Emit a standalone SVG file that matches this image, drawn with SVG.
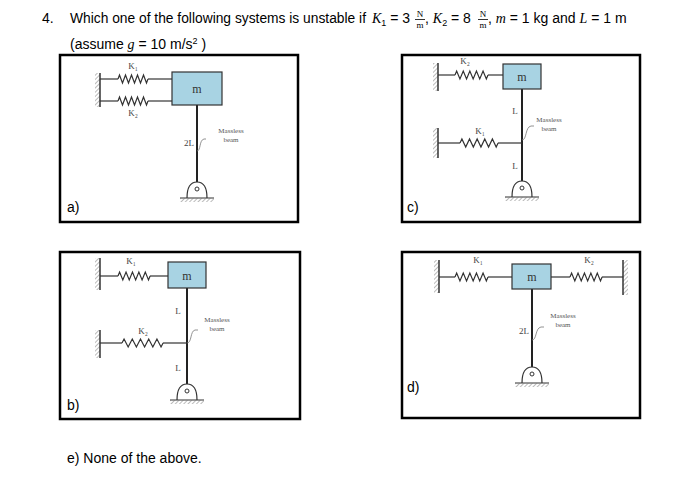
<svg xmlns="http://www.w3.org/2000/svg" xmlns:xlink="http://www.w3.org/1999/xlink" width="700" height="480" viewBox="0 0 700 480">
<style>
.frame{fill:none;stroke:#000;stroke-width:2.5}
.ln{stroke:#333;stroke-width:1.2;fill:none}
.beam{stroke:#222;stroke-width:2;fill:none}
.wall{stroke:#333;stroke-width:1.5}
.mass{fill:#a8d3e3;stroke:#333;stroke-width:1.2}
.lbl{font-family:"Liberation Serif",serif;font-size:9px;fill:#444}
.small{font-family:"Liberation Serif",serif;font-size:7px;fill:#555}
.mt{font-family:"Liberation Serif",serif;font-size:12px;fill:#333}
.t{font-family:"Liberation Sans",Arial,sans-serif;font-size:14px;fill:#000}
.mi{font-family:"Liberation Serif",serif;font-style:italic}
.fr{font-family:"Liberation Serif",serif;font-size:9px;fill:#000}
.sq{stroke:#777;stroke-width:0.8;fill:none}
</style>
<defs>
<pattern id="hatch" width="3" height="3" patternUnits="userSpaceOnUse" patternTransform="rotate(45)">
<line x1="0" y1="0" x2="0" y2="3" stroke="#777" stroke-width="1"/>
</pattern>
<path id="spring" d="M0,0 l1.5,-4 l3,8 l3,-8 l3,8 l3,-8 l3,8 l3,-8 l3,8 l3,-8 l3,8 l1.5,-4" vector-effect="non-scaling-stroke" fill="none" stroke="#333" stroke-width="1.2"/>
<g id="pivot">
<path d="M-10,0 Q-10,-16 0,-16 Q10,-16 10,0" fill="#fff" stroke="#333" stroke-width="1.2"/>
<circle cx="0" cy="-9" r="2" fill="#fff" stroke="#333" stroke-width="1"/>
<line x1="-17" y1="0" x2="17" y2="0" stroke="#333" stroke-width="1.2"/>
<rect x="-17" y="0" width="34" height="4" fill="url(#hatch)"/>
</g>
</defs>

<g id="title">
<text class="t" x="42" y="23">4.</text>
<text class="t" x="70" y="23" textLength="296" lengthAdjust="spacingAndGlyphs">Which one of the following systems is unstable if</text>
<text class="t" x="372" y="23"><tspan class="mi">K</tspan><tspan font-size="9" dy="3">1</tspan><tspan dy="-3"> = 3</tspan></text>
<text class="fr" x="420" y="17" text-anchor="middle">N</text>
<line x1="415" y1="19.5" x2="425" y2="19.5" stroke="#000" stroke-width="0.8"/>
<text class="fr" x="420" y="28" text-anchor="middle">m</text>
<text class="t" x="425" y="23">, <tspan class="mi">K</tspan><tspan font-size="9" dy="3">2</tspan><tspan dy="-3"> = 8</tspan></text>
<text class="fr" x="483" y="17" text-anchor="middle">N</text>
<line x1="478" y1="19.5" x2="488" y2="19.5" stroke="#000" stroke-width="0.8"/>
<text class="fr" x="483" y="28" text-anchor="middle">m</text>
<text class="t" x="488" y="23">, <tspan class="mi">m</tspan> = 1 kg and <tspan class="mi">L</tspan> = 1  m</text>
<text class="t" x="70" y="49">(assume <tspan class="mi">g</tspan> = 10 m/s<tspan font-size="9" dy="-5">2</tspan><tspan dy="5"> )</tspan></text>
</g>

<!-- Panel a -->
<g id="panel-a">
<rect class="frame" x="60" y="55" width="238" height="167"/>
<rect x="95" y="73" width="5" height="34" fill="url(#hatch)"/>
<line class="wall" x1="100" y1="73" x2="100" y2="107"/>
<line class="ln" x1="100" y1="79" x2="118" y2="79"/><use xlink:href="#spring" transform="translate(118,79)"/><line class="ln" x1="148" y1="79" x2="172" y2="79"/>
<line class="ln" x1="100" y1="101" x2="118" y2="101"/><use xlink:href="#spring" transform="translate(118,101)"/><line class="ln" x1="148" y1="101" x2="172" y2="101"/>
<text class="lbl" x="133" y="69" text-anchor="middle">K₁</text>
<text class="lbl" x="133" y="116" text-anchor="middle">K₂</text>
<line class="beam" x1="197" y1="105" x2="197" y2="189"/>
<rect class="mass" x="172" y="72" width="50" height="33"/>
<text class="mt" x="197" y="93" text-anchor="middle">m</text>
<text class="lbl" x="194" y="146" text-anchor="end">2L</text>
<path class="sq" d="M197,151 C201,151 199,140 204,139 L206,139"/>
<text class="small" x="231" y="133" text-anchor="middle">Massless</text>
<text class="small" x="231" y="142" text-anchor="middle">beam</text>
<use xlink:href="#pivot" transform="translate(197,198)"/>
<text class="t" x="67" y="212">a)</text>
</g>

<!-- Panel c -->
<g id="panel-c">
<rect class="frame" x="402" y="55" width="238" height="167"/>
<rect x="433" y="63" width="5" height="28" fill="url(#hatch)"/>
<line class="wall" x1="438" y1="63" x2="438" y2="91"/>
<line class="ln" x1="438" y1="75" x2="455" y2="75"/><use xlink:href="#spring" transform="translate(455,75) scale(1.1,1)"/><line class="ln" x1="488" y1="75" x2="503" y2="75"/>
<text class="lbl" x="465" y="64" text-anchor="middle">K₂</text>
<line class="beam" x1="522" y1="89" x2="522" y2="189"/>
<rect class="mass" x="503" y="64" width="38" height="25"/>
<text class="mt" x="522" y="81" text-anchor="middle">m</text>
<rect x="433" y="128" width="5" height="30" fill="url(#hatch)"/>
<line class="wall" x1="438" y1="128" x2="438" y2="158"/>
<line class="ln" x1="438" y1="143" x2="460" y2="143"/><use xlink:href="#spring" transform="translate(460,143) scale(1.27,1)"/><line class="ln" x1="498" y1="143" x2="522" y2="143"/>
<text class="lbl" x="480" y="134" text-anchor="middle">K₁</text>
<text class="lbl" x="515" y="114" text-anchor="middle">L</text>
<text class="lbl" x="515" y="169" text-anchor="middle">L</text>
<path class="sq" d="M522,140 C527,140 525,127 531,126 L534,126"/>
<text class="small" x="549" y="122" text-anchor="middle">Massless</text>
<text class="small" x="549" y="131" text-anchor="middle">beam</text>
<use xlink:href="#pivot" transform="translate(522,197)"/>
<text class="t" x="407" y="212">c)</text>
</g>

<!-- Panel b -->
<g id="panel-b">
<rect class="frame" x="60" y="252" width="240" height="167"/>
<rect x="95" y="258" width="5" height="32" fill="url(#hatch)"/>
<line class="wall" x1="100" y1="258" x2="100" y2="290"/>
<line class="ln" x1="100" y1="276" x2="118" y2="276"/><use xlink:href="#spring" transform="translate(118,276) scale(1.07,1)"/><line class="ln" x1="150" y1="276" x2="168" y2="276"/>
<text class="lbl" x="131" y="264" text-anchor="middle">K₁</text>
<line class="beam" x1="187" y1="288" x2="187" y2="390"/>
<rect class="mass" x="168" y="262" width="38" height="26"/>
<text class="mt" x="187" y="280" text-anchor="middle">m</text>
<rect x="95" y="330" width="5" height="28" fill="url(#hatch)"/>
<line class="wall" x1="100" y1="330" x2="100" y2="358"/>
<line class="ln" x1="100" y1="343" x2="122" y2="343"/><use xlink:href="#spring" transform="translate(122,343) scale(1.37,1)"/><line class="ln" x1="163" y1="343" x2="187" y2="343"/>
<text class="lbl" x="143" y="334" text-anchor="middle">K₂</text>
<text class="lbl" x="178" y="314" text-anchor="middle">L</text>
<text class="lbl" x="178" y="371" text-anchor="middle">L</text>
<path class="sq" d="M187,343 C192,343 190,331 195,330 L198,330"/>
<text class="small" x="217" y="322" text-anchor="middle">Massless</text>
<text class="small" x="217" y="331" text-anchor="middle">beam</text>
<use xlink:href="#pivot" transform="translate(187,400)"/>
<text class="t" x="67" y="410">b)</text>
</g>

<!-- Panel d -->
<g id="panel-d">
<rect class="frame" x="402" y="252" width="238" height="166"/>
<rect x="434" y="260" width="5" height="33" fill="url(#hatch)"/>
<line class="wall" x1="439" y1="260" x2="439" y2="293"/>
<line class="ln" x1="439" y1="277" x2="455" y2="277"/><use xlink:href="#spring" transform="translate(455,277) scale(1.1,1)"/><line class="ln" x1="488" y1="277" x2="512" y2="277"/>
<text class="lbl" x="478" y="263" text-anchor="middle">K₁</text>
<line class="ln" x1="551" y1="277" x2="570" y2="277"/><use xlink:href="#spring" transform="translate(570,277) scale(1.07,1)"/><line class="ln" x1="602" y1="277" x2="623" y2="277"/>
<rect x="623" y="260" width="5" height="35" fill="url(#hatch)"/>
<line class="wall" x1="623" y1="260" x2="623" y2="295"/>
<text class="lbl" x="589" y="263" text-anchor="middle">K₂</text>
<line class="beam" x1="532" y1="289" x2="532" y2="375"/>
<rect class="mass" x="512" y="264" width="39" height="25"/>
<text class="mt" x="532" y="281" text-anchor="middle">m</text>
<text class="lbl" x="529" y="334" text-anchor="end">2L</text>
<path class="sq" d="M532,340 C537,340 535,328 541,327 L544,327"/>
<text class="small" x="563" y="318" text-anchor="middle">Massless</text>
<text class="small" x="563" y="327" text-anchor="middle">beam</text>
<use xlink:href="#pivot" transform="translate(532,383)"/>
<text class="t" x="407" y="392">d)</text>
</g>

<text class="t" x="67" y="463">e)  None of the above.</text>
</svg>
